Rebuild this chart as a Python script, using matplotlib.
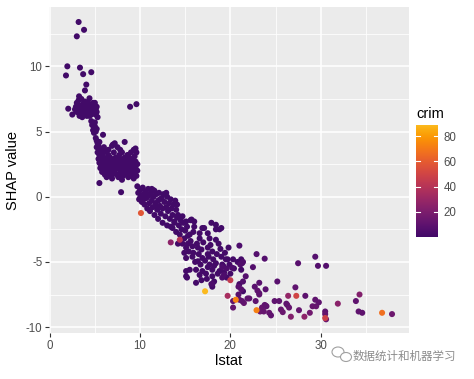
import matplotlib
matplotlib.use("Agg")
import matplotlib.pyplot as plt
import numpy as np
from matplotlib.colors import LinearSegmentedColormap, Normalize
from matplotlib.patches import Ellipse

plt.rcParams['axes.unicode_minus'] = False
plt.rcParams['font.family'] = ['Liberation Sans', 'DejaVu Sans']

# ---- data: (lstat, SHAP value, crim) ----
top_pts = [(3.2, 13.4, 0.1), (3.8, 12.8, 0.1), (3.0, 12.3, 0.1), (1.95, 10.0, 0.05),
           (1.8, 9.3, 0.05), (3.35, 9.9, 0.1), (3.7, 9.4, 0.1), (4.6, 9.55, 0.1),
           (4.05, 8.6, 0.1), (3.9, 8.15, 0.1), (3.25, 7.7, 0.1), (2.05, 6.75, 0.05),
           (2.5, 6.3, 0.05), (8.9, 6.9, 0.6), (9.6, 7.1, 0.6)]

cluster_pts = [(2.9, 6.9, 0.1), (3.0, 7.2, 0.1), (3.1, 6.6, 0.1), (3.2, 7.4, 0.1), (3.3, 6.8, 0.1),
               (3.3, 6.2, 0.1), (3.4, 7.0, 0.1), (3.5, 6.5, 0.1), (3.5, 7.5, 0.1), (3.6, 6.8, 0.1),
               (3.6, 6.1, 0.1), (3.7, 7.1, 0.1), (3.8, 6.6, 0.1), (3.8, 6.3, 0.1), (3.9, 6.9, 0.1),
               (3.9, 7.3, 0.1), (4.0, 6.5, 0.1), (4.0, 6.8, 0.1), (4.1, 7.0, 0.1), (4.1, 6.2, 0.1),
               (4.2, 6.6, 0.1), (4.2, 7.2, 0.1), (4.3, 6.9, 0.1), (4.3, 6.4, 0.1), (4.4, 6.7, 0.1),
               (4.4, 7.55, 0.1), (4.5, 6.5, 0.1), (4.5, 6.9, 0.1), (4.6, 7.1, 0.1), (4.6, 6.3, 0.1),
               (4.7, 6.7, 0.1), (4.7, 6.9, 0.1), (4.8, 6.5, 0.1), (4.8, 7.2, 0.1), (4.9, 6.8, 0.1),
               (4.9, 6.4, 0.1), (5.0, 6.6, 0.1), (5.0, 6.9, 0.1), (5.1, 6.7, 0.1), (5.1, 6.3, 0.1),
               (5.2, 6.9, 0.1), (5.2, 6.5, 0.1), (3.4, 6.4, 0.1), (4.0, 7.1, 0.1), (4.4, 6.2, 0.1),
               (3.7, 6.7, 0.1), (4.6, 6.6, 0.1), (3.0, 6.5, 0.1), (2.8, 6.7, 0.1), (5.3, 6.1, 0.1),
               (5.0, 7.2, 0.1), (4.8, 5.65, 0.1)]

slope_pts = [(4.6, 5.8, 0.1), (4.7, 5.5, 0.1), (4.8, 5.6, 0.1), (4.9, 5.3, 0.1), (4.8, 5.1, 0.1),
             (5.0, 5.4, 0.1), (5.1, 5.0, 0.1), (4.9, 4.9, 0.1), (5.2, 5.2, 0.1), (5.0, 5.7, 0.1),
             (5.1, 4.5, 0.2), (5.2, 4.3, 0.2), (5.3, 4.1, 0.2), (5.4, 3.9, 0.2), (5.2, 3.8, 0.2),
             (5.5, 4.2, 0.2), (5.9, 4.75, 0.2)]

band_pts = [(5.3, 3.4, 0.2), (5.4, 2.9, 0.2), (5.5, 3.2, 0.2), (5.5, 2.6, 0.2), (5.6, 3.6, 0.2),
            (5.6, 2.2, 0.2), (5.7, 3.0, 0.2), (5.7, 2.4, 0.2), (5.8, 2.8, 0.2), (5.8, 1.9, 0.2),
            (5.9, 3.3, 0.2), (5.9, 2.5, 0.2), (6.0, 2.1, 0.2), (6.0, 3.0, 0.2), (6.1, 2.7, 0.2),
            (6.1, 1.7, 0.2), (6.2, 3.5, 0.2), (6.2, 2.3, 0.2), (6.3, 2.9, 0.2), (6.3, 1.5, 0.2),
            (6.4, 2.6, 0.2), (6.4, 2.0, 0.2), (6.5, 3.2, 0.2), (6.5, 2.4, 0.2), (6.6, 1.8, 0.2),
            (6.6, 2.8, 0.2), (6.7, 2.2, 0.2), (6.7, 3.0, 0.2), (6.8, 2.5, 0.2), (6.8, 1.6, 0.2),
            (6.9, 3.9, 0.2), (6.9, 2.0, 0.2), (7.0, 2.7, 0.2), (7.0, 2.3, 0.2), (7.1, 3.4, 0.2),
            (7.1, 1.9, 0.2), (7.2, 4.1, 0.2), (7.2, 2.6, 0.2), (7.3, 2.1, 0.2), (7.3, 3.0, 0.2),
            (7.4, 2.4, 0.2), (7.4, 1.7, 0.2), (7.5, 3.8, 0.2), (7.5, 2.8, 0.2), (7.6, 2.2, 0.2),
            (7.6, 1.5, 0.2), (7.7, 2.6, 0.2), (7.7, 3.2, 0.2), (7.8, 2.0, 0.2), (7.8, 2.9, 0.2),
            (7.9, 2.4, 0.2), (7.9, 1.8, 0.2), (8.0, 2.7, 0.2), (8.0, 3.4, 0.2), (8.1, 2.2, 0.2),
            (8.1, 1.6, 0.2), (8.3, 4.2, 0.2), (8.2, 2.5, 0.2), (8.3, 1.9, 0.2), (8.3, 3.0, 0.2),
            (8.4, 2.3, 0.2), (8.4, 2.8, 0.2), (8.5, 1.7, 0.2), (8.5, 2.1, 0.2), (8.6, 2.6, 0.2),
            (8.6, 3.2, 0.2), (8.7, 2.0, 0.2), (8.7, 1.5, 0.2), (8.8, 2.4, 0.2), (8.8, 3.0, 0.2),
            (8.9, 1.9, 0.2), (8.9, 2.7, 0.2), (9.0, 2.2, 0.2), (9.0, 3.4, 0.2), (9.1, 1.6, 0.2),
            (9.1, 2.5, 0.2), (9.2, 2.9, 0.2), (9.2, 2.0, 0.2), (9.3, 3.6, 0.2), (9.3, 2.4, 0.2),
            (9.4, 1.8, 0.2), (9.4, 3.1, 0.2), (9.5, 2.7, 0.2), (9.5, 2.2, 0.2), (9.6, 3.4, 0.2),
            (9.6, 1.6, 0.2), (9.7, 2.5, 0.2), (9.7, 2.0, 0.2), (9.3, 1.4, 0.2), (8.0, 1.3, 0.2),
            (6.9, 1.4, 0.2), (5.5, 1.05, 0.2), (7.9, 0.35, 0.2), (6.5, 3.6, 0.2), (7.8, 3.6, 0.2),
            (6.0, 3.8, 0.2), (5.8, 3.6, 0.2), (7.0, 4.0, 0.2), (9.5, 3.7, 0.2)]

mid_pts = [(9.7, 0.8, 0.3), (9.8, 0.3, 0.3), (9.9, -0.2, 0.3), (10.0, 0.5, 0.3), (10.1, 0.0, 0.3),
           (10.2, -0.4, 0.3), (10.3, 0.7, 0.3), (10.4, 0.2, 0.3), (10.5, -0.6, 0.3), (10.6, 0.4, 0.3),
           (10.7, -0.1, 0.3), (10.8, -0.9, 0.3), (10.9, 0.6, 0.3), (11.0, 0.1, 0.3), (11.0, -0.5, 0.3),
           (11.1, -1.1, 0.3), (11.2, 0.3, 0.3), (11.3, -0.3, 0.3), (11.4, -0.8, 0.3), (11.5, 0.5, 0.3),
           (11.5, 0.0, 0.3), (11.6, -1.4, 0.3), (11.7, -0.5, 0.3), (11.8, 0.2, 0.3), (11.9, -1.0, 0.3),
           (12.0, -0.3, 0.3), (12.0, -1.7, 0.3), (12.1, 0.3, 0.3), (12.2, -0.7, 0.3), (12.3, -1.3, 0.3),
           (12.4, -0.1, 0.3), (12.5, -2.0, 0.3), (12.5, -0.9, 0.3), (12.6, 0.2, 0.3), (12.7, -0.4, 0.3),
           (12.8, -1.5, 0.3), (12.9, -0.8, 0.3), (13.0, 0.0, 0.3), (13.0, -2.2, 0.3), (13.1, -1.1, 0.3),
           (13.2, -0.5, 0.3), (13.3, -1.7, 0.3), (13.4, -0.2, 0.3), (13.5, -0.9, 0.3), (13.6, -1.4, 0.3),
           (13.7, -0.6, 0.3), (13.8, -1.9, 0.3), (13.9, -0.3, 0.3), (14.0, -1.0, 0.3), (14.1, -0.6, 0.3),
           (10.4, -0.2, 0.3), (11.3, 0.6, 0.3), (12.2, -0.2, 0.3), (13.4, -2.3, 0.3), (14.2, -1.4, 0.3),
           (12.9, 0.3, 0.3), (11.8, -0.7, 0.3), (10.8, 0.0, 0.3), (10.0, -0.1, 0.3), (11.6, 0.45, 0.3)]

low_pts = [(13.6, -2.4, 0.5), (13.8, -2.0, 0.5), (14.0, -2.7, 0.5), (14.1, -1.6, 0.5), (14.3, -2.2, 0.5),
           (14.4, -2.9, 0.5), (14.5, -1.8, 0.5), (14.6, -2.5, 0.5), (14.7, -1.5, 0.5), (14.8, -2.0, 0.5),
           (14.9, -3.2, 0.5), (15.0, -2.6, 0.5), (15.1, -1.9, 0.5), (15.2, -2.3, 0.5), (15.3, -3.0, 0.5),
           (15.5, -2.9, 0.5), (15.6, -1.8, 0.5), (15.7, -1.75, 0.5), (16.0, -2.3, 0.5), (16.0, -1.9, 0.5),
           (16.6, -3.2, 0.5), (16.9, -2.4, 0.5), (17.1, -2.4, 0.5), (17.5, -2.8, 0.5), (17.9, -2.0, 0.5),
           (18.4, -2.15, 0.5), (18.4, -2.5, 0.5), (18.8, -2.5, 0.5), (19.0, -2.4, 0.5), (18.4, -3.3, 0.5),
           (15.1, -3.9, 1.0), (15.8, -3.8, 1.0), (16.8, -4.05, 1.0), (17.5, -3.9, 1.0), (18.0, -4.2, 1.0),
           (19.0, -4.6, 1.0), (19.7, -4.8, 1.0), (20.3, -4.8, 1.0), (21.2, -4.8, 1.0), (15.1, -4.7, 1.0),
           (15.8, -4.6, 1.0), (16.4, -4.95, 1.0), (16.9, -4.7, 1.0), (17.5, -4.4, 1.0), (17.7, -5.2, 1.0),
           (18.4, -5.1, 1.0), (19.1, -5.2, 1.0), (19.9, -5.2, 1.0), (15.5, -5.6, 1.0), (16.2, -5.6, 1.0),
           (16.9, -5.7, 1.0), (17.5, -5.4, 1.0), (18.0, -5.6, 1.0), (18.8, -5.7, 1.0), (20.4, -5.5, 1.0),
           (21.2, -5.6, 1.0), (15.1, -6.1, 1.0), (16.6, -6.0, 1.0), (18.0, -6.1, 1.0), (17.9, -6.7, 1.0),
           (21.0, -6.7, 1.0), (21.4, -7.25, 1.0), (15.1, -5.7, 1.0), (15.2, -6.2, 1.0), (16.2, -6.6, 1.0),
           (18.0, -6.9, 1.0), (18.2, -6.5, 1.0), (19.2, -5.3, 1.0), (19.5, -4.8, 1.0), (15.4, -4.2, 1.0),
           (15.9, -4.3, 1.0), (16.3, -3.6, 1.0), (16.5, -4.4, 1.0), (16.7, -5.2, 1.0), (17.0, -3.5, 1.0),
           (17.2, -4.9, 1.0), (17.3, -5.9, 1.0), (17.6, -4.6, 1.0), (17.8, -3.7, 1.0), (18.1, -4.8, 1.0),
           (18.2, -5.3, 1.0), (18.5, -4.4, 1.0), (18.6, -5.9, 1.0), (18.9, -4.0, 1.0), (19.3, -5.8, 1.0),
           (19.4, -4.3, 1.0), (16.1, -5.0, 1.0), (16.4, -3.9, 1.0), (17.4, -6.3, 1.0), (16.8, -6.4, 1.0),
           (15.6, -3.4, 1.0), (15.3, -3.6, 1.0), (14.9, -4.3, 1.0), (14.7, -3.6, 1.0), (19.8, -3.9, 1.0),
           (18.7, -3.6, 1.0), (17.7, -3.2, 1.0), (16.6, -2.8, 1.0), (15.9, -2.7, 1.0), (14.2, -3.6, 1.0),
           (20.0, -5.9, 1.0), (20.8, -5.0, 1.0), (19.6, -6.2, 1.0)]

tail_pts = [(21.0, -3.75, 4), (22.9, -4.4, 6), (23.8, -4.75, 6), (27.5, -5.1, 8), (29.4, -4.6, 6),
            (29.7, -5.3, 6), (30.6, -5.3, 6), (22.5, -5.4, 6), (25.2, -6.5, 8), (27.2, -6.95, 10),
            (28.3, -7.6, 9), (21.4, -5.0, 5), (21.1, -5.2, 5), (19.1, -5.4, 4), (19.6, -5.5, 4),
            (20.2, -5.45, 4), (21.3, -5.1, 5), (19.3, -6.0, 4), (19.1, -6.2, 4), (21.4, -6.5, 6),
            (21.7, -6.1, 6), (22.7, -6.9, 8), (23.2, -6.6, 8), (23.9, -7.1, 8), (21.2, -7.1, 8),
            (20.3, -8.0, 10), (21.0, -7.9, 10), (21.5, -8.15, 12), (20.3, -8.5, 12), (21.9, -7.8, 10),
            (23.2, -7.4, 8), (23.8, -8.3, 10), (23.5, -8.5, 12), (24.0, -8.4, 10), (23.3, -8.8, 14),
            (23.7, -8.8, 12), (24.3, -8.9, 12), (24.5, -9.1, 10), (25.6, -8.65, 12), (25.8, -8.85, 14),
            (25.4, -8.0, 10), (26.3, -8.3, 12), (26.5, -8.5, 12), (27.6, -8.7, 12), (28.8, -8.9, 16),
            (29.5, -8.4, 12), (29.4, -7.9, 10), (29.8, -8.1, 10), (29.1, -8.4, 12), (30.5, -8.8, 10),
            (30.5, -9.0, 12), (30.6, -9.4, 14), (33.9, -8.0, 10), (34.2, -8.8, 10), (34.6, -8.9, 10),
            (22.8, -8.0, 10), (23.2, -7.5, 10), (22.1, -7.8, 10), (21.3, -8.0, 10), (20.9, -7.5, 8),
            (20.9, -6.9, 8), (23.0, -7.2, 10), (18.0, -6.7, 4), (24.9, -8.0, 10), (26.2, -8.2, 10),
            (23.9, -8.35, 10)]

high_crim_pts = [(10.1, -1.25, 58), (14.4, -3.3, 40), (13.4, -3.5, 26), (17.2, -7.25, 89),
                 (20.6, -7.9, 73), (20.0, -6.4, 45), (19.7, -7.6, 35), (22.9, -8.7, 72),
                 (27.3, -7.6, 50), (26.4, -7.6, 28), (30.5, -9.3, 48), (36.8, -8.9, 67),
                 (37.9, -9.0, 15), (31.9, -8.2, 25), (34.3, -7.5, 22), (28.2, -9.2, 26),
                 (26.7, -9.2, 22)]

groups = [top_pts, cluster_pts, slope_pts, band_pts, mid_pts, low_pts, tail_pts, high_crim_pts]
lstat = np.array([p[0] for g in groups for p in g])
shap = np.array([p[1] for g in groups for p in g])
crim = np.array([p[2] for g in groups for p in g])

crim_ticks = [20, 40, 60, 80]
x_ticks = [0, 10, 20, 30]
y_ticks = [-10, -5, 0, 5, 10]

# ---- figure ----
W, H = 474, 379
fig = plt.figure(figsize=(W / 100, H / 100), dpi=100)
ax = fig.add_axes([49 / W, 1 - 333 / H, 360 / W, 326 / H])
ax.set_facecolor('#EBEBEB')

cmap = LinearSegmentedColormap.from_list('inf_sub', plt.cm.inferno(np.linspace(0.2, 0.84, 256)))
norm = Normalize(0.006, 89)

ax.scatter(lstat, shap, c=crim, cmap=cmap, norm=norm, s=19, edgecolors='none', zorder=3)

ax.set_xlim(-0.08, 39.78)
ax.set_ylim(-10.45, 14.55)
ax.set_xticks(x_ticks)
ax.set_yticks(y_ticks)
ax.set_xticks([5, 15, 25, 35], minor=True)
ax.set_yticks([-7.5, -2.5, 2.5, 7.5, 12.5], minor=True)
ax.grid(which='major', color='white', lw=1.1)
ax.grid(which='minor', color='white', lw=0.55)
ax.set_axisbelow(True)
for s in ax.spines.values():
    s.set_visible(False)
ax.tick_params(which='major', length=2.8, width=0.8, color='#333333',
               labelcolor='#4D4D4D', labelsize=8.3, pad=2)
ax.tick_params(which='minor', length=0)
ax.set_xlabel('lstat', fontsize=10.5, labelpad=2)
ax.set_ylabel('SHAP value', fontsize=10.5, labelpad=4)

# ---- colour bar ----
cax = fig.add_axes([416 / W, 1 - 237 / H, 22 / W, 112 / H])
grad = np.linspace(0.006, 89, 256).reshape(-1, 1)
cax.imshow(grad, aspect='auto', cmap=cmap, norm=norm, origin='lower',
           extent=[0, 1, 0.006, 89])
cax.set_xlim(0, 1)
cax.set_ylim(0.006, 89)
cax.set_xticks([])
cax.set_yticks(crim_ticks)
cax.yaxis.tick_right()
cax.tick_params(axis='y', length=0, labelsize=8.3, labelcolor='#4D4D4D', pad=4)
for t in crim_ticks:
    cax.plot([0, 0.2], [t, t], color='white', lw=0.8)
    cax.plot([0.8, 1], [t, t], color='white', lw=0.8)
for s in cax.spines.values():
    s.set_visible(False)
fig.text(416 / W, 1 - 114 / H, 'crim', fontsize=10.5, ha='left', va='center')

# ---- watermark ----
fig.add_artist(Ellipse((338 / W, 1 - 352 / H), 12 / W, 10 / H, transform=fig.transFigure,
                       fill=False, ec='#a0a0a0', lw=0.8))
fig.add_artist(Ellipse((346 / W, 1 - 357 / H), 11 / W, 9 / H, transform=fig.transFigure,
                       fill=True, fc='white', ec='#a0a0a0', lw=0.8))
fig.text(353 / W, 1 - 356 / H, '数据统计和机器学习', fontsize=8.3, color='#8c8c8c',
         ha='left', va='center', family=['Noto Sans CJK SC', 'DejaVu Sans'])

fig.savefig('out.png', dpi=100)
